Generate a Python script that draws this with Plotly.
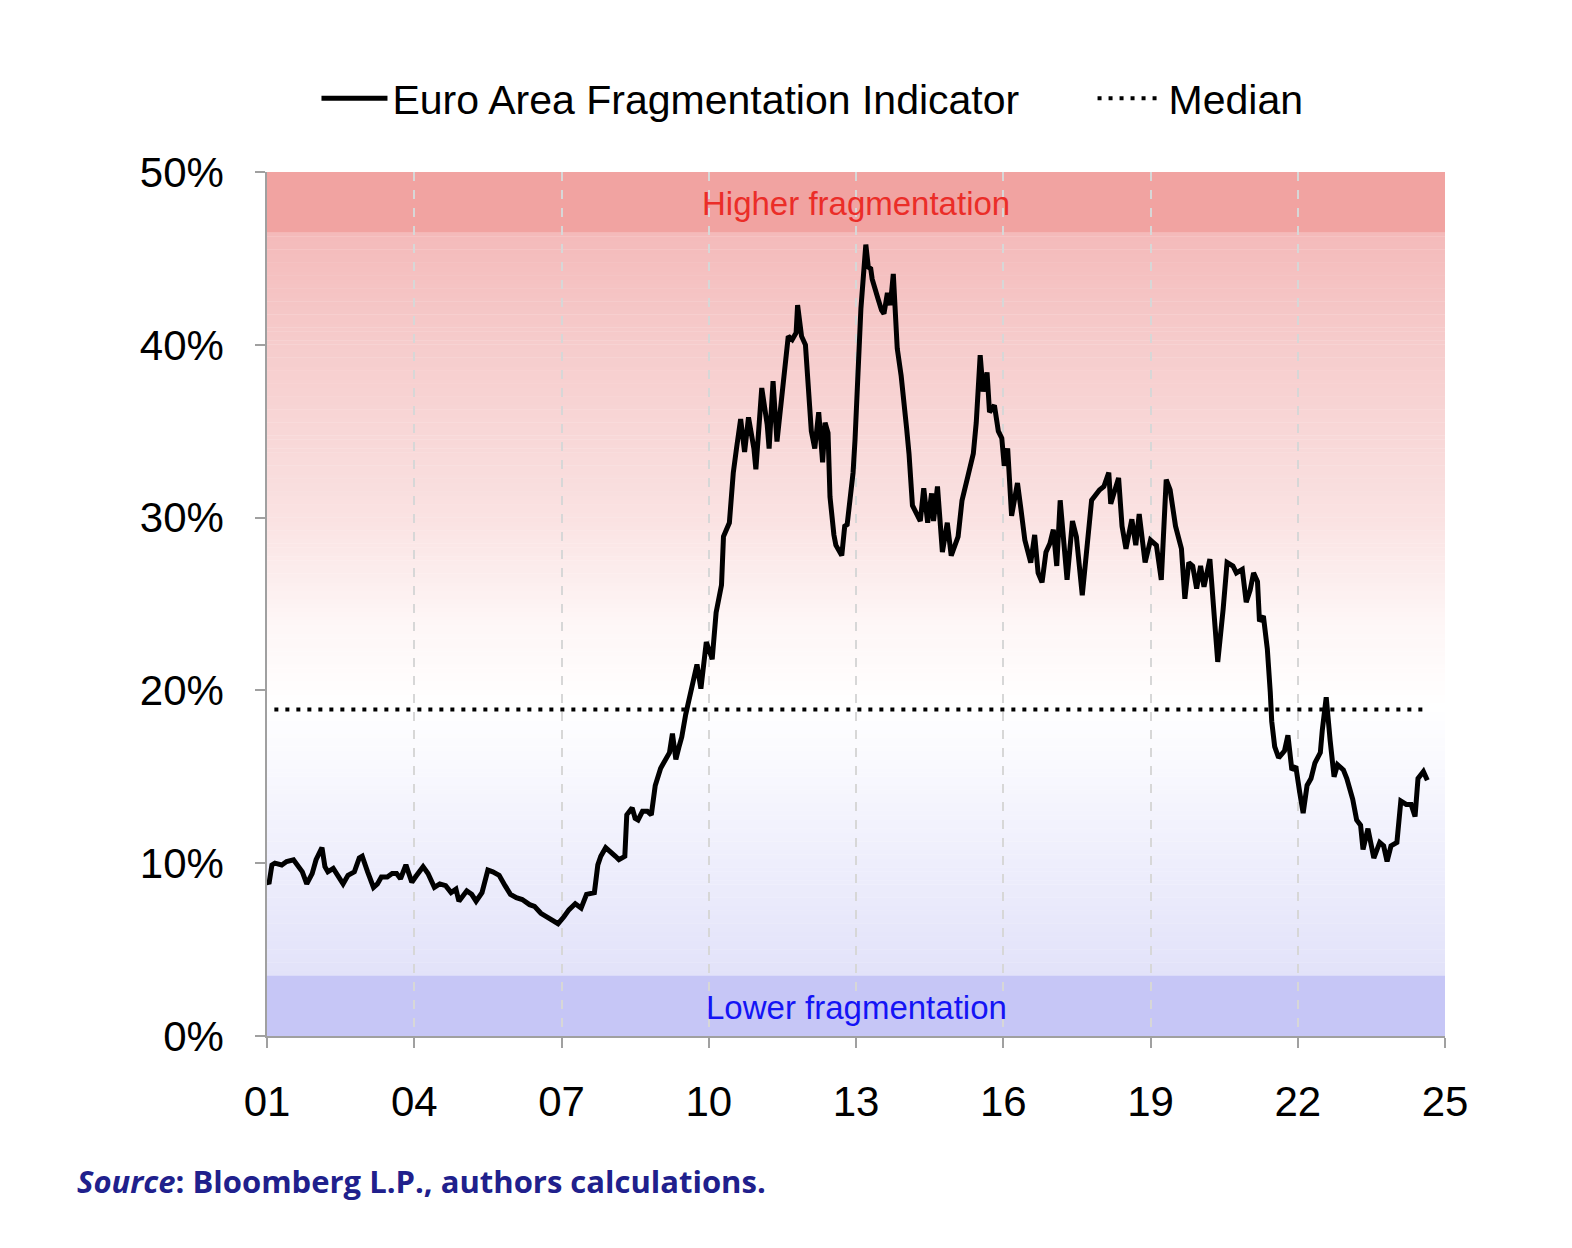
import plotly.graph_objects as go

# ---------------- data ----------------
years = [
    2001.00, 2001.04, 2001.10, 2001.16, 2001.30, 2001.40, 2001.54, 2001.62, 2001.72, 2001.81,
    2001.92, 2002.00, 2002.12, 2002.18, 2002.24, 2002.35, 2002.45, 2002.55, 2002.65, 2002.78,
    2002.88, 2002.94, 2003.05, 2003.17, 2003.25, 2003.33, 2003.45, 2003.55, 2003.64, 2003.72,
    2003.83, 2003.95, 2004.05, 2004.18, 2004.28, 2004.41, 2004.52, 2004.64, 2004.75, 2004.85,
    2004.91, 2005.00, 2005.07, 2005.17, 2005.26, 2005.38, 2005.50, 2005.60, 2005.73, 2005.85,
    2005.96, 2006.08, 2006.20, 2006.35, 2006.45, 2006.58, 2006.70, 2006.80, 2006.93, 2007.05,
    2007.15, 2007.28, 2007.40, 2007.51, 2007.60, 2007.67, 2007.74, 2007.80, 2007.90, 2008.00,
    2008.10, 2008.17, 2008.29, 2008.33, 2008.44, 2008.50, 2008.56, 2008.65, 2008.75, 2008.83,
    2008.91, 2009.02, 2009.14, 2009.20, 2009.26, 2009.33, 2009.40, 2009.45, 2009.53, 2009.64,
    2009.76, 2009.84, 2009.95, 2010.07, 2010.15, 2010.26, 2010.30, 2010.42, 2010.50, 2010.57,
    2010.65, 2010.73, 2010.81, 2010.92, 2010.96, 2011.08, 2011.19, 2011.23, 2011.31, 2011.39,
    2011.47, 2011.54, 2011.62, 2011.70, 2011.78, 2011.81, 2011.89, 2011.97, 2012.09, 2012.16,
    2012.24, 2012.32, 2012.37, 2012.43, 2012.47, 2012.55, 2012.59, 2012.71, 2012.77, 2012.82,
    2012.88, 2012.94, 2012.98, 2013.04, 2013.10, 2013.20, 2013.25, 2013.30, 2013.33, 2013.45,
    2013.52, 2013.57, 2013.64, 2013.70, 2013.76, 2013.84, 2013.92, 2014.03, 2014.08, 2014.15,
    2014.31, 2014.38, 2014.46, 2014.54, 2014.58, 2014.66, 2014.76, 2014.86, 2014.94, 2015.08,
    2015.16, 2015.28, 2015.39, 2015.45, 2015.53, 2015.59, 2015.67, 2015.72, 2015.82, 2015.90,
    2015.97, 2016.02, 2016.09, 2016.17, 2016.29, 2016.36, 2016.44, 2016.56, 2016.64, 2016.71,
    2016.79, 2016.87, 2016.95, 2017.02, 2017.09, 2017.16, 2017.22, 2017.30, 2017.41, 2017.49,
    2017.61, 2017.69, 2017.80, 2017.96, 2018.05, 2018.15, 2018.19, 2018.35, 2018.42, 2018.50,
    2018.62, 2018.70, 2018.77, 2018.89, 2019.00, 2019.12, 2019.22, 2019.32, 2019.40, 2019.51,
    2019.63, 2019.70, 2019.78, 2019.86, 2019.94, 2020.02, 2020.09, 2020.21, 2020.29, 2020.37,
    2020.48, 2020.56, 2020.68, 2020.75, 2020.87, 2020.95, 2021.03, 2021.10, 2021.18, 2021.22,
    2021.30, 2021.38, 2021.44, 2021.47, 2021.53, 2021.61, 2021.73, 2021.80, 2021.88, 2021.96,
    2022.04, 2022.11, 2022.19, 2022.27, 2022.35, 2022.46, 2022.50, 2022.58, 2022.66, 2022.74,
    2022.81, 2022.93, 2023.00, 2023.12, 2023.20, 2023.28, 2023.33, 2023.43, 2023.55, 2023.67,
    2023.75, 2023.82, 2023.90, 2024.02, 2024.10, 2024.21, 2024.31, 2024.39, 2024.45, 2024.56,
    2024.64,
]
indicator = [
    9.0, 8.8, 9.9, 10.0, 9.9, 10.1, 10.2, 9.9, 9.5, 8.8,
    9.4, 10.2, 10.9, 9.8, 9.5, 9.7, 9.3, 8.8, 9.3, 9.5,
    10.3, 10.4, 9.5, 8.6, 8.8, 9.2, 9.2, 9.4, 9.4, 9.1,
    9.9, 8.9, 9.3, 9.8, 9.4, 8.6, 8.8, 8.7, 8.3, 8.5,
    7.8, 8.1, 8.4, 8.2, 7.8, 8.3, 9.6, 9.5, 9.3, 8.7,
    8.2, 8.0, 7.9, 7.6, 7.5, 7.1, 6.9, 6.7, 6.5, 6.9,
    7.3, 7.65, 7.4, 8.2, 8.3, 8.3, 9.9, 10.4, 10.9, 10.6,
    10.4, 10.2, 10.4, 12.8, 13.2, 12.6, 12.5, 13.0, 13.0, 12.8,
    14.5, 15.5, 16.1, 16.4, 17.5, 16.0, 16.8, 17.3, 18.6, 20.1,
    21.5, 20.1, 22.8, 21.8, 24.5, 26.1, 28.9, 29.7, 32.6, 34.1,
    35.7, 33.8, 35.8, 34.0, 32.8, 37.5, 35.4, 34.0, 37.9, 34.4,
    36.5, 38.8, 40.5, 40.3, 40.7, 42.3, 40.5, 40.0, 35.0, 34.0,
    36.1, 33.2, 35.5, 34.9, 31.2, 29.0, 28.4, 27.8, 29.5, 29.6,
    31.0, 32.6, 34.5, 38.2, 42.1, 45.8, 44.5, 44.4, 43.8, 42.65,
    42.0, 41.8, 43.0, 42.3, 44.1, 39.8, 38.2, 35.2, 33.7, 30.7,
    29.8, 31.7, 29.7, 31.4, 29.8, 31.8, 28.0, 29.7, 27.8, 28.9,
    31.0, 32.4, 33.7, 35.5, 39.4, 37.3, 38.4, 36.1, 36.5, 35.0,
    34.6, 33.0, 34.0, 30.1, 32.0, 30.5, 28.7, 27.4, 29.0, 26.8,
    26.25, 28.0, 28.5, 29.3, 27.2, 31.0, 28.7, 26.4, 29.8, 28.9,
    25.5, 27.8, 31.0, 31.6, 31.8, 32.6, 30.8, 32.3, 29.5, 28.2,
    29.9, 28.4, 30.2, 27.4, 28.7, 28.4, 26.4, 32.2, 31.6, 29.5,
    28.2, 25.3, 27.4, 27.2, 25.9, 27.2, 26.0, 27.6, 24.9, 21.65,
    24.7, 27.4, 27.2, 26.8, 27.0, 25.1, 25.8, 26.8, 26.3, 24.0,
    24.3, 22.4, 19.9, 18.2, 16.75, 16.1, 16.5, 17.4, 15.4, 15.6,
    14.1, 12.9, 14.5, 14.9, 15.8, 16.4, 17.7, 19.6, 17.1, 15.0,
    15.7, 15.4, 14.9, 13.7, 12.5, 12.2, 10.8, 12.0, 10.3, 11.2,
    11.0, 10.1, 11.0, 11.2, 13.6, 13.4, 13.4, 12.7, 14.9, 15.3,
    14.8,
]
median_value = 18.9

tick_years = [2001, 2004, 2007, 2010, 2013, 2016, 2019, 2022, 2025]
tick_labels = ["01", "04", "07", "10", "13", "16", "19", "22", "25"]
y_ticks = [0, 10, 20, 30, 40, 50]
y_labels = ["0%", "10%", "20%", "30%", "40%", "50%"]

# zones
high_zone = (46.5, 50.0)
low_zone = (0.0, 3.5)

# background gradient colour stops (value %, rgb)
grad_stops = [
    (3.5, (226, 226, 249)),
    (10.0, (238, 238, 252)),
    (19.0, (255, 255, 255)),
    (24.0, (254, 246, 246)),
    (30.0, (250, 226, 226)),
    (40.0, (246, 204, 204)),
    (46.5, (244, 186, 186)),
]

FONT = "Liberation Sans, Arial, sans-serif"


def interp_color(v):
    for (v0, c0), (v1, c1) in zip(grad_stops[:-1], grad_stops[1:]):
        if v0 <= v <= v1:
            t = (v - v0) / (v1 - v0)
            return "rgb(%d,%d,%d)" % tuple(round(a + (b - a) * t) for a, b in zip(c0, c1))
    return "rgb(%d,%d,%d)" % grad_stops[-1][1]


shapes = []
# gradient strips
step = 0.25
n = int(round((high_zone[0] - low_zone[1]) / step))
for i in range(n):
    y0 = low_zone[1] + i * step
    y1 = y0 + step
    shapes.append(dict(type="rect", xref="x", yref="y", x0=tick_years[0], x1=tick_years[-1],
                       y0=y0, y1=y1 + 0.02, fillcolor=interp_color((y0 + y1) / 2),
                       line=dict(width=0), layer="below"))
shapes.append(dict(type="rect", xref="x", yref="y", x0=tick_years[0], x1=tick_years[-1],
                   y0=high_zone[0], y1=high_zone[1], fillcolor="rgb(241,163,161)",
                   line=dict(width=0), layer="below"))
shapes.append(dict(type="rect", xref="x", yref="y", x0=tick_years[0], x1=tick_years[-1],
                   y0=low_zone[0], y1=low_zone[1], fillcolor="rgb(198,198,246)",
                   line=dict(width=0), layer="below"))

fig = go.Figure()
fig.add_trace(go.Scatter(
    x=years, y=indicator, mode="lines",
    name="Euro Area Fragmentation Indicator" + "\u00a0" * 6,
    line=dict(color="black", width=5), hoverinfo="skip"))
fig.add_trace(go.Scatter(
    x=[years[0] + 0.15, years[-1]], y=[median_value, median_value], mode="lines", name="Median",
    line=dict(color="black", width=4, dash="4px,7px"), hoverinfo="skip"))

annotations = [
    dict(x=(tick_years[0] + tick_years[-1]) / 2, y=48.2, xref="x", yref="y",
         text="Higher fragmentation", showarrow=False,
         font=dict(family=FONT, size=33, color="rgb(235,45,40)")),
    dict(x=(tick_years[0] + tick_years[-1]) / 2, y=1.65, xref="x", yref="y",
         text="Lower fragmentation", showarrow=False,
         font=dict(family=FONT, size=33, color="rgb(20,20,245)")),
    dict(x=-0.163, y=-0.168, xref="paper", yref="paper", xanchor="left", yanchor="middle",
         text="<b><i>Source</i>: Bloomberg L.P., authors calculations.</b>", showarrow=False,
         font=dict(family="Open Sans, sans-serif", size=31, color="rgb(32,32,140)")),
]

fig.update_layout(
    width=1572, height=1248, autosize=False,
    margin=dict(l=267, r=127, t=172, b=212),
    paper_bgcolor="white", plot_bgcolor="white",
    font=dict(family=FONT, color="black"),
    shapes=shapes, annotations=annotations,
    showlegend=True,
    legend=dict(orientation="h", x=0.042, xanchor="left", y=1.085, yanchor="middle",
                font=dict(family=FONT, size=41, color="black"),
                bgcolor="rgba(0,0,0,0)", itemwidth=66),
)
fig.update_xaxes(
    range=[tick_years[0], tick_years[-1]], tickvals=tick_years, ticktext=tick_labels,
    showgrid=True, gridcolor="rgb(215,215,215)", griddash="dash", gridwidth=1.5,
    showline=True, linecolor="rgb(160,160,160)", linewidth=1.5,
    ticks="outside", ticklen=10, tickcolor="rgb(160,160,160)", tickwidth=1.5,
    tickfont=dict(family=FONT, size=42, color="black"), ticklabelstandoff=18,
    zeroline=False, fixedrange=True,
)
fig.update_yaxes(
    range=[0, 50], tickvals=y_ticks, ticktext=y_labels,
    showgrid=False, showline=True, linecolor="rgb(160,160,160)", linewidth=1.5,
    ticks="outside", ticklen=10, tickcolor="rgb(160,160,160)", tickwidth=1.5,
    tickfont=dict(family=FONT, size=42, color="black"), ticklabelstandoff=23,
    zeroline=False, fixedrange=True,
)

fig.write_html("out.html")
